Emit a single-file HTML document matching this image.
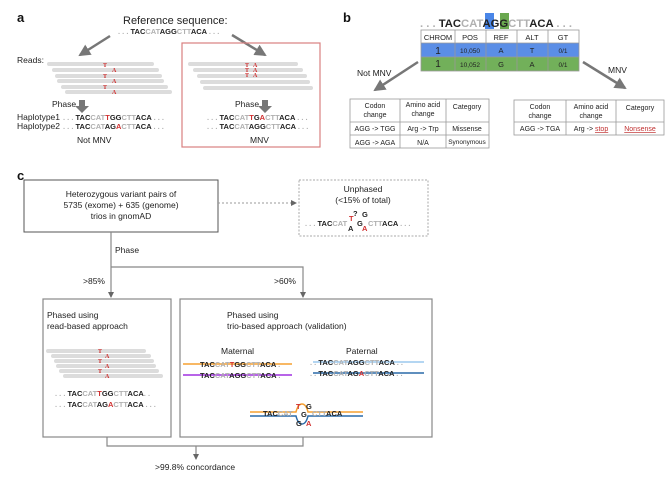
<!DOCTYPE html>
<html><head><meta charset="utf-8"><style>
html,body{margin:0;padding:0;background:#fff;}
svg{display:block;font-family:"Liberation Sans",sans-serif;}
.s{font-weight:bold;font-size:7.5px;}
.g{fill:#b0b0b0}.k{fill:#222}.r{fill:#d03030}
.t{font-size:8.5px;fill:#222}
.bar{fill:#dcdcdc}
.rl{font-size:6px;font-weight:bold;fill:#d03030;font-family:"Liberation Serif",serif}
</style></head><body>
<svg width="671" height="477" viewBox="0 0 671 477">
<defs>
<marker id="ah" markerWidth="6" markerHeight="6" refX="5" refY="3" orient="auto" markerUnits="userSpaceOnUse"><path d="M0,0 L6,3 L0,6 z" fill="#666"/></marker>
<marker id="bh" markerWidth="12" markerHeight="12" refX="10" refY="6" orient="auto" markerUnits="userSpaceOnUse"><path d="M0,0 L12,6 L0,12 z" fill="#777"/></marker>
</defs>

<!-- ===== Panel a ===== -->
<text x="17" y="22" font-weight="bold" font-size="13" fill="#111">a</text>
<text x="123" y="24" font-size="11" fill="#222">Reference sequence:</text>
<text x="118" y="34" class="s"><tspan class="g">. . . </tspan><tspan class="k">TAC</tspan><tspan class="g">CAT</tspan><tspan class="k">AGG</tspan><tspan class="g">CTT</tspan><tspan class="k">ACA</tspan><tspan class="g"> . . .</tspan></text>
<line x1="110" y1="36" x2="80" y2="55" stroke="#777" stroke-width="2.5" marker-end="url(#bh)"/>
<line x1="232" y1="35" x2="265" y2="55" stroke="#777" stroke-width="2.5" marker-end="url(#bh)"/>
<text x="17" y="63" class="t" font-size="9">Reads:</text>
<rect x="182" y="43" width="138" height="104" fill="none" stroke="#d98080" stroke-width="1.2"/>
<!-- left reads -->
<g class="bar">
<rect x="47" y="62" width="107" height="4" rx="2"/>
<rect x="52" y="68" width="107" height="4" rx="2"/>
<rect x="55" y="74" width="107" height="4" rx="2"/>
<rect x="57" y="79" width="107" height="4" rx="2"/>
<rect x="61" y="85" width="107" height="4" rx="2"/>
<rect x="65" y="90" width="107" height="4" rx="2"/>
</g>
<text class="rl" x="103" y="67">T</text><text class="rl" x="112" y="72">A</text>
<text class="rl" x="103" y="78">T</text><text class="rl" x="112" y="83">A</text>
<text class="rl" x="103" y="89">T</text><text class="rl" x="112" y="94">A</text>
<!-- right reads -->
<g class="bar">
<rect x="188" y="62" width="110" height="4" rx="2"/>
<rect x="193" y="68" width="110" height="4" rx="2"/>
<rect x="197" y="74" width="110" height="4" rx="2"/>
<rect x="200" y="80" width="110" height="4" rx="2"/>
<rect x="203" y="86" width="110" height="4" rx="2"/>
</g>
<text class="rl" x="245" y="67">T</text><text class="rl" x="253" y="67">A</text>
<text class="rl" x="245" y="72">T</text><text class="rl" x="253" y="72">A</text>
<text class="rl" x="245" y="77">T</text><text class="rl" x="253" y="77">A</text>
<!-- phase left -->
<text x="52" y="107" class="t" font-size="8">Phase</text>
<path d="M79,100 h6 v6 h4 l-7,7 l-7,-7 h4 z" fill="#777"/>
<text x="17" y="120" class="t" font-size="8">Haplotype1</text>
<text x="17" y="129" class="t" font-size="8">Haplotype2</text>
<text x="63" y="120" class="s"><tspan class="g">. . . </tspan><tspan class="k">TAC</tspan><tspan class="g">CAT</tspan><tspan class="r">T</tspan><tspan class="k">GG</tspan><tspan class="g">CTT</tspan><tspan class="k">ACA</tspan><tspan class="g"> . . .</tspan></text>
<text x="63" y="129" class="s"><tspan class="g">. . . </tspan><tspan class="k">TAC</tspan><tspan class="g">CAT</tspan><tspan class="k">AG</tspan><tspan class="r">A</tspan><tspan class="g">CTT</tspan><tspan class="k">ACA</tspan><tspan class="g"> . . .</tspan></text>
<text x="77" y="143" class="t" font-size="8.5">Not MNV</text>
<!-- phase right -->
<text x="235" y="107" class="t" font-size="8">Phase</text>
<path d="M262,100 h6 v6 h4 l-7,7 l-7,-7 h4 z" fill="#777"/>
<text x="207" y="120" class="s"><tspan class="g">. . . </tspan><tspan class="k">TAC</tspan><tspan class="g">CAT</tspan><tspan class="r">T</tspan><tspan class="k">G</tspan><tspan class="r">A</tspan><tspan class="g">CTT</tspan><tspan class="k">ACA</tspan><tspan class="g"> . . .</tspan></text>
<text x="207" y="129" class="s"><tspan class="g">. . . </tspan><tspan class="k">TAC</tspan><tspan class="g">CAT</tspan><tspan class="k">AGG</tspan><tspan class="g">CTT</tspan><tspan class="k">ACA</tspan><tspan class="g"> . . .</tspan></text>
<text x="250" y="143" class="t" font-size="9">MNV</text>

<!-- ===== Panel b ===== -->
<text x="343" y="22" font-weight="bold" font-size="13" fill="#111">b</text>
<rect x="485" y="13" width="9" height="16" fill="#4a86e8"/>
<rect x="500" y="13" width="9" height="16" fill="#6aa84f"/>
<text x="420" y="27" font-weight="bold" font-size="11" textLength="152" lengthAdjust="spacingAndGlyphs"><tspan class="g">. . . </tspan><tspan class="k">TAC</tspan><tspan class="g">CAT</tspan><tspan class="k">AGG</tspan><tspan class="g">CTT</tspan><tspan class="k">ACA</tspan><tspan class="g"> . . .</tspan></text>
<rect x="421" y="43" width="158" height="14" fill="#5b8ee6"/>
<rect x="421" y="57" width="158" height="14" fill="#72b05a"/>
<g stroke="#999" stroke-width="0.8" fill="none">
<rect x="421" y="30" width="158" height="41"/>
<line x1="421" y1="43" x2="579" y2="43"/><line x1="421" y1="57" x2="579" y2="57"/>
<line x1="455" y1="30" x2="455" y2="71"/><line x1="486" y1="30" x2="486" y2="71"/>
<line x1="517" y1="30" x2="517" y2="71"/><line x1="548" y1="30" x2="548" y2="71"/>
</g>
<g font-size="7.5" fill="#222" text-anchor="middle">
<text x="438" y="40">CHROM</text><text x="470" y="40">POS</text><text x="501" y="40">REF</text><text x="532" y="40">ALT</text><text x="563" y="40">GT</text>
<text x="438" y="54" font-size="10">1</text><text x="470" y="53" font-size="6.5">10,050</text><text x="501" y="53">A</text><text x="532" y="53">T</text><text x="563" y="53" font-size="6.5">0/1</text>
<text x="438" y="67" font-size="10">1</text><text x="470" y="67" font-size="6.5">10,052</text><text x="501" y="67">G</text><text x="532" y="67">A</text><text x="563" y="67" font-size="6.5">0/1</text>
</g>
<line x1="418" y1="62" x2="375" y2="90" stroke="#777" stroke-width="2.5" marker-end="url(#bh)"/>
<line x1="583" y1="62" x2="625" y2="88" stroke="#777" stroke-width="2.5" marker-end="url(#bh)"/>
<text x="357" y="76" class="t" font-size="8.5">Not MNV</text>
<text x="608" y="73" class="t" font-size="8.5">MNV</text>
<!-- left table -->
<g stroke="#999" stroke-width="0.8" fill="none">
<rect x="350" y="99" width="139" height="49"/>
<line x1="350" y1="122" x2="489" y2="122"/><line x1="350" y1="135" x2="489" y2="135"/>
<line x1="400" y1="99" x2="400" y2="148"/><line x1="446" y1="99" x2="446" y2="148"/>
<rect x="514" y="100" width="150" height="35"/>
<line x1="514" y1="122" x2="664" y2="122"/>
<line x1="566" y1="100" x2="566" y2="135"/><line x1="616" y1="100" x2="616" y2="135"/>
</g>
<g font-size="7" fill="#222" text-anchor="middle">
<text x="375" y="108">Codon</text><text x="375" y="117">change</text>
<text x="423" y="107">Amino acid</text><text x="423" y="116">change</text>
<text x="467" y="109">Category</text>
<text x="375" y="131">AGG -&gt; TGG</text><text x="423" y="131">Arg -&gt; Trp</text><text x="467" y="131">Missense</text>
<text x="375" y="145">AGG -&gt; AGA</text><text x="423" y="145">N/A</text><text x="467" y="144" font-size="6.5">Synonymous</text>
<text x="540" y="109">Codon</text><text x="540" y="118">change</text>
<text x="591" y="109">Amino acid</text><text x="591" y="118">change</text>
<text x="640" y="110">Category</text>
<text x="540" y="131">AGG -&gt; TGA</text><text x="591" y="131">Arg -&gt; <tspan fill="#c03030" text-decoration="underline">stop</tspan></text><text x="640" y="131" fill="#c03030" text-decoration="underline">Nonsense</text>
</g>

<!-- ===== Panel c ===== -->
<text x="17" y="180" font-weight="bold" font-size="13" fill="#111">c</text>
<rect x="24" y="180" width="194" height="52" fill="none" stroke="#555" stroke-width="1"/>
<g font-size="8.5" fill="#222" text-anchor="middle">
<text x="121" y="197">Heterozygous variant pairs of</text>
<text x="121" y="208">5735 (exome) + 635 (genome)</text>
<text x="121" y="219">trios in gnomAD</text>
</g>
<line x1="218" y1="203" x2="296" y2="203" stroke="#999" stroke-dasharray="2,2" marker-end="url(#ah)"/>
<rect x="299" y="180" width="129" height="56" fill="none" stroke="#aaa" stroke-dasharray="2,1.5"/>
<g font-size="8.5" fill="#222" text-anchor="middle">
<text x="363" y="192">Unphased</text>
<text x="363" y="203">(&lt;15% of total)</text>
</g>
<text x="305" y="226" class="s"><tspan class="g">. . . </tspan><tspan class="k">TAC</tspan><tspan class="g">CAT</tspan></text>
<text x="349" y="221" class="s r">T</text><text x="348" y="231" class="s k">A</text>
<text x="353" y="216" class="s k" font-size="9">?</text>
<text x="357" y="226" class="s k">G</text>
<text x="362" y="217" class="s k">G</text><text x="362" y="231" class="s r">A</text>
<text x="368" y="226" class="s"><tspan class="g">CTT</tspan><tspan class="k">ACA</tspan><tspan class="g"> . . .</tspan></text>

<line x1="111" y1="232" x2="111" y2="297" stroke="#888" stroke-width="1.2" marker-end="url(#ah)"/>
<polyline points="111,267 303,267 303,297" fill="none" stroke="#888" stroke-width="1.2" marker-end="url(#ah)"/>
<text x="115" y="253" class="t" font-size="8.5">Phase</text>
<text x="83" y="284" class="t" font-size="8">&gt;85%</text>
<text x="274" y="284" class="t" font-size="8">&gt;60%</text>

<!-- left box -->
<rect x="43" y="299" width="128" height="138" fill="none" stroke="#888" stroke-width="1.2"/>
<text x="47" y="318" class="t">Phased using</text>
<text x="47" y="329" class="t">read-based approach</text>
<g class="bar">
<rect x="46" y="349" width="100" height="4" rx="2"/>
<rect x="51" y="354" width="100" height="4" rx="2"/>
<rect x="54" y="359" width="100" height="4" rx="2"/>
<rect x="56" y="364" width="100" height="4" rx="2"/>
<rect x="59" y="369" width="100" height="4" rx="2"/>
<rect x="63" y="374" width="100" height="4" rx="2"/>
</g>
<text class="rl" x="98" y="353">T</text><text class="rl" x="105" y="358">A</text>
<text class="rl" x="98" y="363">T</text><text class="rl" x="105" y="368">A</text>
<text class="rl" x="98" y="373">T</text><text class="rl" x="105" y="378">A</text>
<text x="55" y="396" class="s"><tspan class="g">. . . </tspan><tspan class="k">TAC</tspan><tspan class="g">CAT</tspan><tspan class="r">T</tspan><tspan class="k">GG</tspan><tspan class="g">CTT</tspan><tspan class="k">ACA</tspan><tspan class="g">. .</tspan></text>
<text x="55" y="407" class="s"><tspan class="g">. . . </tspan><tspan class="k">TAC</tspan><tspan class="g">CAT</tspan><tspan class="k">AG</tspan><tspan class="r">A</tspan><tspan class="g">CTT</tspan><tspan class="k">ACA</tspan><tspan class="g"> . . .</tspan></text>

<!-- right box -->
<rect x="180" y="299" width="252" height="138" fill="none" stroke="#888" stroke-width="1.2"/>
<text x="227" y="318" class="t">Phased using</text>
<text x="227" y="329" class="t">trio-based approach (validation)</text>
<text x="221" y="354" class="t">Maternal</text>
<text x="346" y="354" class="t">Paternal</text>
<line x1="183" y1="364" x2="292" y2="364" stroke="#f5a030" stroke-width="1.5"/>
<line x1="183" y1="375" x2="292" y2="375" stroke="#a030e0" stroke-width="1.5"/>
<line x1="313" y1="362" x2="424" y2="362" stroke="#9cc8ee" stroke-width="1.5"/>
<line x1="313" y1="373" x2="424" y2="373" stroke="#2a6aa8" stroke-width="1.5"/>
<text x="200" y="367" class="s"><tspan class="k">TAC</tspan><tspan class="g">CAT</tspan><tspan class="r">T</tspan><tspan class="k">GG</tspan><tspan class="g">CTT</tspan><tspan class="k">ACA</tspan><tspan class="g"> .</tspan></text>
<text x="200" y="378" class="s"><tspan class="k">TAC</tspan><tspan class="g">CAT</tspan><tspan class="k">AGG</tspan><tspan class="g">CTT</tspan><tspan class="k">ACA</tspan><tspan class="g"> .</tspan></text>
<text x="310" y="365" class="s"><tspan class="g">. . </tspan><tspan class="k">TAC</tspan><tspan class="g">CAT</tspan><tspan class="k">AGG</tspan><tspan class="g">CTT</tspan><tspan class="k">ACA</tspan><tspan class="g"> . .</tspan></text>
<text x="310" y="376" class="s"><tspan class="g">. . </tspan><tspan class="k">TAC</tspan><tspan class="g">CAT</tspan><tspan class="k">AG</tspan><tspan class="r">A</tspan><tspan class="g">CTT</tspan><tspan class="k">ACA</tspan><tspan class="g"> . .</tspan></text>
<!-- merged -->
<path d="M250,412 H296 Q298,404 302,404 Q306,404 308,412 H363" fill="none" stroke="#f5a030" stroke-width="1.5"/>
<path d="M250,416 H296 Q298,424 302,424 Q306,424 308,416 H363" fill="none" stroke="#2a6aa8" stroke-width="1.5"/>
<text x="263" y="416" class="s"><tspan class="k">TAC</tspan><tspan class="g">CAT</tspan></text>
<text x="296" y="409" class="s r">T</text><text x="306" y="409" class="s k">G</text>
<text x="301" y="417" class="s k">G</text>
<text x="296" y="426" class="s k">G</text><text x="306" y="426" class="s r">A</text>
<text x="312" y="416" class="s"><tspan class="g">CTT</tspan><tspan class="k">ACA</tspan></text>

<!-- bottom -->
<polyline points="107,437 107,446 303,446 303,437" fill="none" stroke="#888" stroke-width="1.2"/>
<line x1="196" y1="446" x2="196" y2="459" stroke="#888" stroke-width="1.2" marker-end="url(#ah)"/>
<text x="155" y="470" class="t">&gt;99.8% concordance</text>
</svg>
</body></html>
